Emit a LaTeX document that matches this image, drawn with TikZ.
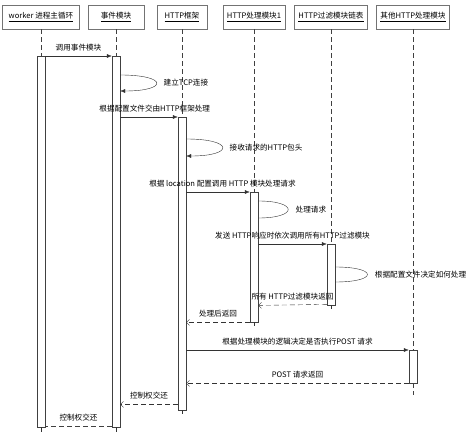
\documentclass[tikz,border=0pt]{standalone}
\usepackage{fontspec}
\newfontfamily\cjk{Noto Sans CJK SC}
\usetikzlibrary{arrows.meta}
\begin{document}
\begin{tikzpicture}[x=1pt,y=-1pt,
    font=\cjk\fontsize{7.6}{9}\selectfont,
    head/.style={draw=black!55,minimum height=24pt,inner xsep=4pt},
    bar/.style={draw=black!75,fill=white,minimum width=8pt,anchor=north,inner sep=0pt},
    life/.style={draw=black!75,dash pattern=on 5pt off 3pt},
    call/.style={draw=black!80,-{Latex[length=5pt,width=4pt]}},
    back/.style={draw=black!80,dash pattern=on 5pt off 3pt,-{Straight Barb[length=3pt,width=6pt]}},
    self/.style={draw=black!80},
    lbl/.style={above=4pt,inner sep=1pt}]
    \useasboundingbox (0,0) rectangle (474,438);

    % lifeline heads
    \node[head,minimum width=77pt] (worker) at (41,17) {\underline{worker 进程主循环}};
    \node[head,minimum width=56pt] (event) at (116,17) {\underline{事件模块}};
    \node[head,minimum width=50pt] (frame) at (182,17) {\underline{HTTP框架}};
    \node[head,minimum width=62pt] (handler) at (254,17) {\underline{HTTP处理模块1}};
    \node[head,minimum width=73pt] (filter) at (331,17) {\underline{HTTP过滤模块链表}};
    \node[head,minimum width=73pt] (other) at (413,17) {\underline{其他HTTP处理模块}};

    % activation bars
    \node[bar,minimum height=371pt] (workerbar) at (41,56) {};
    \node[bar,minimum height=371pt] (eventbar) at (116,56) {};
    \node[bar,minimum height=293pt] (framebar) at (182,117) {};
    \node[bar,minimum height=130pt] (handlerbar) at (254,192) {};
    \node[bar,minimum height=61pt] (filterbar) at (331,244) {};
    \node[bar,minimum height=33pt] (otherbar) at (413,350) {};
    \coordinate (otherend) at (413,395);

    \draw[life] (worker) -- (workerbar); \draw[life] (event) -- (eventbar); \draw[life] (frame) -- (framebar);
    \draw[life] (handler) -- (handlerbar); \draw[life] (filter) -- (filterbar); \draw[life] (other) -- (otherbar);
    \draw[life] (otherbar) -- (otherend);
    \draw[self] (workerbar.south) -- ++(0,5); \draw[self] (eventbar.south) -- ++(0,5); \draw[self] (framebar.south) -- ++(0,4);
    \draw[self] (handlerbar.south) -- ++(0,4); \draw[self] (filterbar.south) -- ++(0,4);

    % messages
    \draw[call] (workerbar.north east) to node[lbl] {调用事件模块} (eventbar.north west);
    \draw[self,-{Latex[length=5pt,width=4pt]}] ([yshift=-19pt]eventbar.north east) .. controls +(48,0) and +(48,0) .. node[right=4pt] {建立TCP连接} ([yshift=-35pt]eventbar.north east);
    \draw[call] (eventbar.east |- framebar.north) to node[lbl,pos=0.6] {根据配置文件交由HTTP框架处理} (framebar.north west);
    \draw[self,-{Latex[length=5pt,width=4pt]}] ([yshift=-22pt]framebar.north east) .. controls +(48,0) and +(48,0) .. node[right=4pt] {接收请求的HTTP包头} ([yshift=-39pt]framebar.north east);
    \draw[call] (framebar.east |- handlerbar.north) to node[lbl,pos=0.57] {根据 location 配置调用 HTTP 模块处理请求} (handlerbar.north west);
    \draw[self] ([yshift=-9pt]handlerbar.north east) .. controls +(40,0) and +(40,0) .. node[right=4pt] {处理请求} ([yshift=-26pt]handlerbar.north east);
    \draw[call] (handlerbar.east |- filterbar.north) to node[lbl] {发送 HTTP响应时依次调用所有HTTP过滤模块} (filterbar.north west);
    \draw[self] ([yshift=-23pt]filterbar.north east) .. controls +(43,0) and +(43,0) .. node[right=4pt] {根据配置文件决定如何处理} ([yshift=-38pt]filterbar.north east);
    \draw[back] ([yshift=1pt]filterbar.south west) to node[lbl] {所有 HTTP过滤模块返回} (handlerbar.east |- filterbar.south);
    \draw[back] (handlerbar.south west) to node[lbl] {处理后返回} (framebar.east |- handlerbar.south);
    \draw[call] (framebar.east |- otherbar.north) to node[lbl] {根据处理模块的逻辑决定是否执行POST 请求} (otherbar.north west);
    \draw[back] (otherbar.south west) to node[lbl] {POST 请求返回} (framebar.east |- otherbar.south);
    \coordinate (giveback) at ([yshift=6pt]framebar.south west);
    \draw[back] (giveback) to node[lbl] {控制权交还} (eventbar.east |- giveback);
    \draw[life] ([yshift=1pt]eventbar.south west) to node[lbl] {控制权交还} ([yshift=1pt]workerbar.south east);
\end{tikzpicture}
\end{document}
